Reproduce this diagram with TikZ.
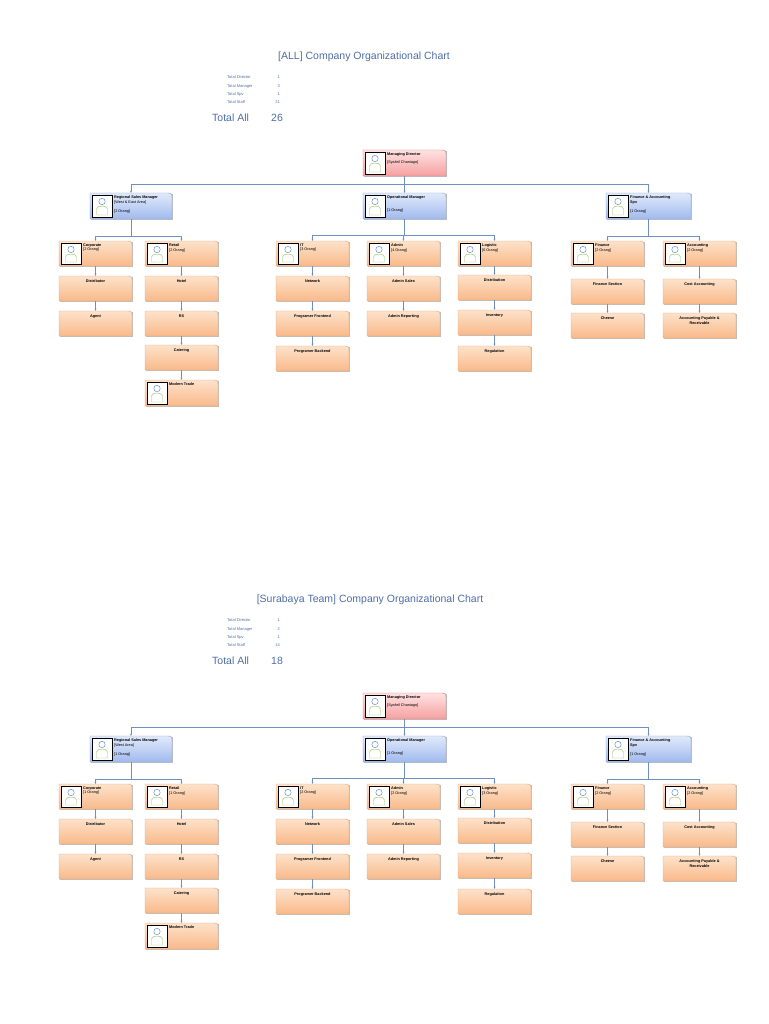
\documentclass[tikz,border=0pt]{standalone}
\usepackage{fontspec}
\setmainfont{Liberation Sans}
\usetikzlibrary{arrows.meta}
\definecolor{ttl}{HTML}{4F6FA8}
\definecolor{conn}{HTML}{6F8FC4}
\definecolor{headc}{HTML}{5A86CC}
\definecolor{bodyc}{HTML}{9CC25A}
\tikzset{
 orangebox/.style={top color={rgb,255:red,253;green,226;blue,202},bottom color={rgb,255:red,249;green,185;blue,138},draw={rgb,255:red,236;green,170;blue,120},line width=0.4pt},
 bluebox/.style={top color={rgb,255:red,226;green,234;blue,250},bottom color={rgb,255:red,160;green,186;blue,238},draw={rgb,255:red,140;green,168;blue,220},line width=0.4pt},
 pinkbox/.style={top color={rgb,255:red,255;green,226;blue,226},bottom color={rgb,255:red,245;green,160;blue,160},draw={rgb,255:red,224;green,120;blue,120},line width=0.4pt},
 lbl/.style={font=\fontsize{3.8}{4.6}\selectfont\bfseries,inner sep=0,align=left,anchor=north west},
 clbl/.style={font=\fontsize{3.8}{4.6}\selectfont\bfseries,inner sep=0,align=center,anchor=north},
 cline/.style={draw=conn,line width=0.6pt},
 carr/.style={cline,-{Stealth[length=2.2pt,width=2pt]}},
 stat/.style={font=\fontsize{4}{5}\selectfont,text=ttl,inner sep=0},
}
% #1 name #2 x1 #3 y1 #4 x2 #5 y2 #6 style #7 photo(1/0) #8 text
\newcommand\obox[8]{%
 \pgfmathsetmacro\bw{#4-#2}\pgfmathsetmacro\bh{#5-#3}%
 \begin{scope}[shift={(#2,-#3)}]
 \path[fill=black!25] (1,-1) -- (\bw+1,-1) -- (\bw+1,-\bh-1) -- (1,-\bh-1) -- cycle;
 \path[#6] (0,0) -- (\bw-6,0) .. controls (\bw,0) .. (\bw,-6) -- (\bw,-\bh) -- (0,-\bh) -- cycle;
 \node[inner sep=0,minimum width=\bw pt,minimum height=\bh pt] (#1) at (\bw/2,-\bh/2) {};
 \ifnum#7=1
 \draw[line width=0.9pt,fill=white] (2,-2) rectangle (22,-\bh+2);
 \draw[headc,line width=0.45pt] (12,-8.5) circle (3.2);
 \draw[bodyc,line width=0.45pt] (6.5,-\bh+4) -- (6.5,-16) .. controls (6.5,-12) and (17.5,-12) .. (17.5,-16) -- (17.5,-\bh+4) -- cycle;
 \node[lbl] (#1-t) at (24,-2.5) {#8};
 \else
 \node[clbl] (#1-t) at (\bw/2,-4) {#8};
 \fi
 \end{scope}}
\newcommand\chart[1]{%
\begin{scope}[#1]
 \node[font=\fontsize{10.5}{12}\selectfont,text=ttl] (title) at (\Vtx,-57) {\Vtitle};
 \node[stat,anchor=west] (s1) at (227,-77) {Total Director};
 \node[stat,anchor=west] (s2) at (227,-86) {Total Manager};
 \node[stat,anchor=west] (s3) at (227,-94) {Total Spv};
 \node[stat,anchor=west] (s4) at (227,-102) {Total Staff};
 \node[stat,anchor=east] (v1) at (280,-77) {1};
 \node[stat,anchor=east] (v2) at (280,-86) {\Vmgr};
 \node[stat,anchor=east] (v3) at (280,-94) {1};
 \node[stat,anchor=east] (v4) at (280,-102) {\Vstaff};
 \node[font=\fontsize{10.5}{12}\selectfont,text=ttl,anchor=west,inner sep=0] (ta) at (212,-118) {Total All};
 \node[font=\fontsize{10.5}{12}\selectfont,text=ttl,anchor=west,inner sep=0] (tv) at (271,-118) {\Vtotal};
 \obox{md}{363}{150}{446}{176}{pinkbox}{1}{Managing Director\\[3pt]{\mdseries[Syahril Chaniago]}}
 \obox{rsm}{90}{193}{172}{219}{bluebox}{1}{Regional Sales Manager\\{\mdseries\Varea}\\[4.4pt]{\mdseries[\Vrsm\ Orang]}}
 \obox{op}{363}{193}{446}{219}{bluebox}{1}{Operational Manager\\[8.8pt]{\mdseries[1 Orang]}}
 \obox{fin}{606}{193}{691}{219}{bluebox}{1}{Finance \& Accounting\\Spv\\[4.4pt]{\mdseries[1 Orang]}}
 \obox{corp}{59}{241}{132}{266}{orangebox}{1}{Corporate\\{\mdseries[\Vcorp\ Orang]}}
 \obox{ret}{145}{241}{218}{266}{orangebox}{1}{Retail\\{\mdseries[\Vret\ Orang]}}
 \obox{it}{276}{241}{349}{266}{orangebox}{1}{IT\\{\mdseries[\Vit\ Orang]}}
 \obox{adm}{367}{241}{440}{266}{orangebox}{1}{Admin\\{\mdseries[\Vadm\ Orang]}}
 \obox{log}{458}{241}{531}{266}{orangebox}{1}{Logistic\\{\mdseries[\Vlog\ Orang]}}
 \obox{fn}{571}{241}{644}{266}{orangebox}{1}{Finance\\{\mdseries[\Vfn\ Orang]}}
 \obox{acc}{663}{241}{736}{266}{orangebox}{1}{Accounting\\{\mdseries[\Vacc\ Orang]}}
 \obox{dist}{59}{276}{132}{301}{orangebox}{0}{Distributor}
 \obox{agent}{59}{311}{132}{336}{orangebox}{0}{Agent}
 \obox{hotel}{145}{276}{218}{301}{orangebox}{0}{Hotel}
 \obox{rs}{145}{311}{218}{336}{orangebox}{0}{RS}
 \obox{cat}{145}{345}{218}{370}{orangebox}{0}{Catering}
 \obox{mt}{145}{380}{218}{406}{orangebox}{1}{Modern Trade}
 \obox{net}{276}{276}{349}{301}{orangebox}{0}{Network}
 \obox{pf}{276}{311}{349}{336}{orangebox}{0}{Programer Frontend}
 \obox{pb}{276}{346}{349}{371}{orangebox}{0}{Programer Backend}
 \obox{as}{367}{276}{440}{301}{orangebox}{0}{Admin Sales}
 \obox{ar}{367}{311}{440}{336}{orangebox}{0}{Admin Reporting}
 \obox{distr}{458}{275}{531}{300}{orangebox}{0}{Distribution}
 \obox{inv}{458}{310}{531}{335}{orangebox}{0}{Inventory}
 \obox{reg}{458}{346}{531}{371}{orangebox}{0}{Regulation}
 \obox{fs}{571}{279}{644}{304}{orangebox}{0}{Finance Section}
 \obox{ch}{571}{313}{644}{338}{orangebox}{0}{Cheese}
 \obox{ca}{663}{279}{736}{304}{orangebox}{0}{Cost Accounting}
 \obox{ap}{663}{313}{736}{338}{orangebox}{0}{Accounting Payable \&\\Receivable}
 \foreach \c in {rsm,op,fin} \draw[carr] (md.south) -- ++(0,-8) -| (\c.north);
 \foreach \c in {corp,ret} \draw[carr] (rsm.south) -- ++(0,-17) -| (\c.north);
 \foreach \c in {it,adm,log} \draw[carr] (op.south) -- ++(0,-16) -| (\c.north);
 \foreach \c in {fn,acc} \draw[carr] (fin.south) -- ++(0,-17) -| (\c.north);
 \foreach \a/\b in {corp/dist,dist/agent,ret/hotel,hotel/rs,rs/cat,cat/mt,it/net,net/pf,pf/pb,adm/as,as/ar,log/distr,distr/inv,inv/reg,fn/fs,fs/ch,acc/ca,ca/ap}
   \draw[carr] (\a.south) -- (\b.north);
\end{scope}}
\begin{document}
\begin{tikzpicture}[x=1pt,y=1pt]
\useasboundingbox[fill=white] (0,0) rectangle (768,-1024);
\def\Vtx{364}\def\Vtitle{[ALL] Company Organizational Chart}\def\Vmgr{3}\def\Vstaff{21}\def\Vtotal{26}
\def\Varea{[West  \& East Area]}\def\Vrsm{2}\def\Vcorp{2}\def\Vret{2}\def\Vit{3}\def\Vadm{4}\def\Vlog{6}\def\Vfn{2}\def\Vacc{2}
\chart{name prefix=A-}
\def\Vtx{370}\def\Vtitle{[Surabaya Team] Company Organizational Chart}\def\Vmgr{2}\def\Vstaff{14}\def\Vtotal{18}
\def\Varea{[West Area]}\def\Vrsm{1}\def\Vcorp{1}\def\Vret{1}\def\Vit{2}\def\Vadm{2}\def\Vlog{3}\def\Vfn{2}\def\Vacc{2}
\chart{name prefix=B-,yshift=-543pt}
\end{tikzpicture}
\end{document}
